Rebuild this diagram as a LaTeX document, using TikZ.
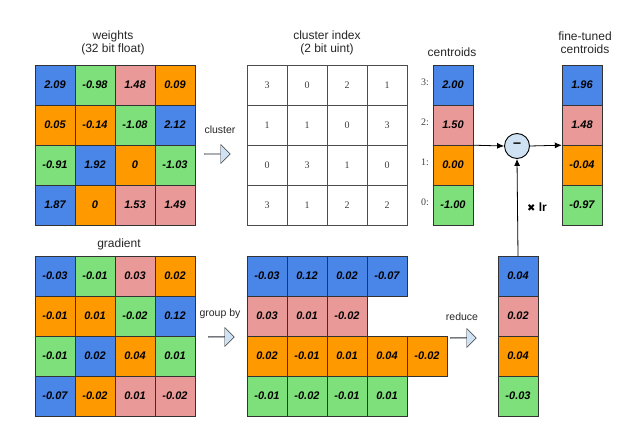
\documentclass[tikz,border=0pt]{standalone}
\usepackage{fontspec}
\setmainfont{Liberation Sans}
\newfontfamily\serifnum{Liberation Serif}
\newfontfamily\djv{DejaVu Sans}
\usetikzlibrary{shapes.arrows,arrows.meta}
\definecolor{cB}{HTML}{4A86E8}
\definecolor{cG}{HTML}{7EE07A}
\definecolor{cP}{HTML}{EA9999}
\definecolor{cO}{HTML}{FF9900}
\definecolor{cL}{HTML}{CFE2F3}
\begin{document}
\begin{tikzpicture}[x=1pt,y=-1pt,
  cell/.style={draw=black!80,minimum size=40pt,inner sep=0pt,font=\fontsize{11}{12}\selectfont\bfseries\itshape},
  idx/.style={draw=black!70,minimum size=40pt,inner sep=0pt,font=\serifnum\fontsize{10}{12}\selectfont,text=black!75},
  ttl/.style={font=\fontsize{12}{13}\selectfont,text=black!85,align=center,inner sep=0pt},
  lbl/.style={font=\fontsize{10.5}{12}\selectfont,text=black!85,inner sep=0pt},
  blk/.style={single arrow,draw=black!80,fill=cL,minimum width=19pt,minimum height=26pt,single arrow head extend=4pt,inner sep=0pt},
  con/.style={-{Latex[length=7pt,width=6pt]},line width=0.8pt}]
\useasboundingbox (0,0) rectangle (623,433);
% weights
\foreach \c/\v [count=\i from 0] in {cB/2.09,cG/-0.98,cP/1.48,cO/0.09,cO/0.05,cO/-0.14,cG/-1.08,cB/2.12,cG/-0.91,cB/1.92,cO/0,cG/-1.03,cB/1.87,cO/0,cP/1.53,cP/1.49}{
  \pgfmathtruncatemacro\r{int(\i/4)}\pgfmathtruncatemacro\k{mod(\i,4)}
  \node[cell,fill=\c] (w\i) at (55+40*\k,85+40*\r) {\v};}
% gradient
\foreach \c/\v [count=\i from 0] in {cB/-0.03,cG/-0.01,cP/0.03,cO/0.02,cO/-0.01,cO/0.01,cG/-0.02,cB/0.12,cG/-0.01,cB/0.02,cO/0.04,cG/0.01,cB/-0.07,cO/-0.02,cP/0.01,cP/-0.02}{
  \pgfmathtruncatemacro\r{int(\i/4)}\pgfmathtruncatemacro\k{mod(\i,4)}
  \node[cell,fill=\c] (g\i) at (55+40*\k,276+40*\r) {\v};}
% cluster index
\foreach \v [count=\i from 0] in {3,0,2,1,1,1,0,3,0,3,1,0,3,1,2,2}{
  \pgfmathtruncatemacro\r{int(\i/4)}\pgfmathtruncatemacro\k{mod(\i,4)}
  \node[idx] (ci\i) at (267+40*\k,85+40*\r) {\v};}
% centroids
\foreach \c/\v/\n [count=\i from 0] in {cB/2.00/3,cP/1.50/2,cO/0.00/1,cG/-1.00/0}{
  \node[cell,fill=\c] (ce\i) at (453,85+40*\i) {\v};
  \node[font=\serifnum\fontsize{10}{12}\selectfont,text=black!75,inner sep=0pt] (cl\i) at (425,82+40*\i) {\n:};}
% fine-tuned
\foreach \c/\v [count=\i from 0] in {cB/1.96,cP/1.48,cO/-0.04,cG/-0.97}{
  \node[cell,fill=\c] (ft\i) at (582,85+40*\i) {\v};}
% grouped
\foreach \v [count=\i from 0] in {-0.03,0.12,0.02,-0.07}{\node[cell,fill=cB] (gb\i) at (267+40*\i,276) {\v};}
\foreach \v [count=\i from 0] in {0.03,0.01,-0.02}{\node[cell,fill=cP] (gp\i) at (267+40*\i,316) {\v};}
\foreach \v [count=\i from 0] in {0.02,-0.01,0.01,0.04,-0.02}{\node[cell,fill=cO] (go\i) at (267+40*\i,356) {\v};}
\foreach \v [count=\i from 0] in {-0.01,-0.02,-0.01,0.01}{\node[cell,fill=cG] (gg\i) at (267+40*\i,396) {\v};}
% reduced
\foreach \c/\v [count=\i from 0] in {cB/0.04,cP/0.02,cO/0.04,cG/-0.03}{
  \node[cell,fill=\c] (rd\i) at (518,276+40*\i) {\v};}
% titles
\node[ttl] (t1) at (113,43) {weights\\(32 bit float)};
\node[ttl] (t2) at (327,43) {cluster index\\(2 bit uint)};
\node[ttl] (t3) at (452,52) {centroids};
\node[ttl] (t4) at (585,43) {fine-tuned\\centroids};
\node[ttl] (t5) at (119,244) {gradient};
% block arrows
\node[lbl] (l1) at (220,130) {cluster};
\node[blk] (a1) at (217,154) {};
\node[lbl] (l2) at (220,314) {group by};
\node[blk] (a2) at (221,337) {};
\node[lbl] (l3) at (462,317) {reduce};
\node[blk] (a3) at (463,338) {};
% minus
\node[circle,draw=black,line width=0.9pt,fill=cL,minimum size=25pt,inner sep=0pt,font=\bfseries\Large] (mn) at (517,146) {\raisebox{1pt}{--}};
\draw[con] (ce1.south east) -- (mn.west);
\draw[con] (mn.east) -- (ft1.south west);
\draw[con] (rd0.north) -- (mn.south);
\node[font=\fontsize{12}{13}\selectfont\bfseries,inner sep=0pt] (lr) at (537,207) {{\djv\fontsize{10}{12}\selectfont ✖} lr};
\end{tikzpicture}
\end{document}
